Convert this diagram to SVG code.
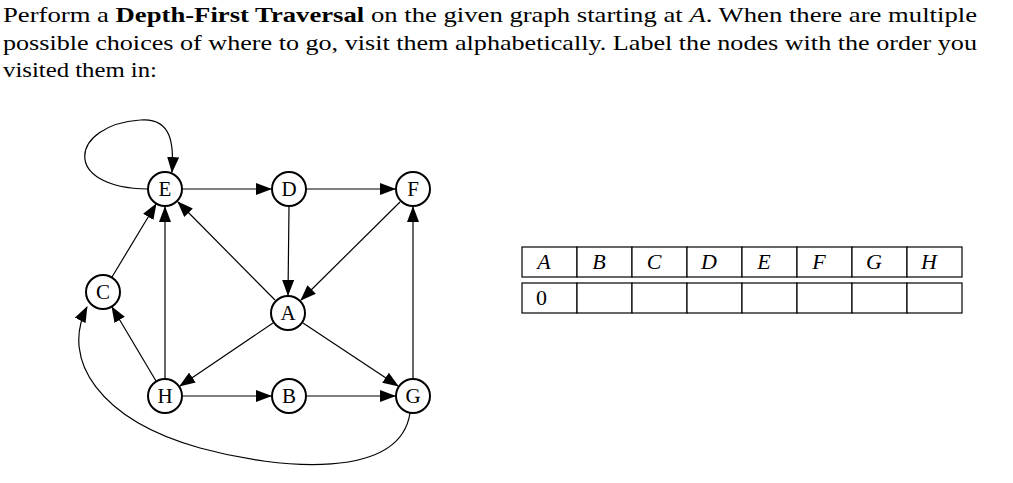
<svg xmlns="http://www.w3.org/2000/svg" width="1013" height="483" viewBox="0 0 1013 483">
<style>
.t{font-family:"Liberation Serif","DejaVu Serif",serif;font-size:21px;fill:#000}
.n circle{fill:#fff;stroke:#000;stroke-width:2}
.n text{font-family:"Liberation Serif","DejaVu Serif",serif;font-size:21px;text-anchor:middle}
.e{fill:none;stroke:#000;stroke-width:1.2;marker-end:url(#ah)}
.c{fill:#fff;stroke:#000;stroke-width:1.2}
.h{font-family:"Liberation Serif",serif;font-style:italic;font-size:22px;text-anchor:middle}
.v{font-family:"Liberation Serif",serif;font-size:22px}
</style>
<defs><marker id="ah" markerUnits="userSpaceOnUse" markerWidth="16" markerHeight="12" refX="15" refY="6" orient="auto"><path d="M0,0 L16,6 L0,12 Z" fill="#000"/></marker></defs>
<rect width="1013" height="483" fill="#fff"/>
<text class="t" x="3" y="22" textLength="974" lengthAdjust="spacingAndGlyphs">Perform a <tspan font-weight="bold">Depth-First Traversal</tspan> on the given graph starting at <tspan font-style="italic">A</tspan>.  When there are multiple</text>
<text class="t" x="3" y="50" textLength="974" lengthAdjust="spacingAndGlyphs">possible choices of where to go, visit them alphabetically.  Label the nodes with the order you</text>
<text class="t" x="3" y="77" textLength="154" lengthAdjust="spacingAndGlyphs">visited them in:</text>
<g id="connectors">
<path class="e" d="M183,189 L271,189"/>
<path class="e" d="M307,189 L395,189"/>
<path class="e" d="M289,207 L288,295"/>
<path class="e" d="M400,202 L301,300"/>
<path class="e" d="M275,300 L178,202"/>
<path class="e" d="M273,323 L180,386"/>
<path class="e" d="M303,323 L398,386"/>
<path class="e" d="M112,277 L156,204"/>
<path class="e" d="M165,378 L165,207"/>
<path class="e" d="M156,381 L112,307"/>
<path class="e" d="M183,396 L271,396"/>
<path class="e" d="M307,396 L395,396"/>
<path class="e" d="M413,378 L413,207"/>
<path class="e" d="M148,189 C60,188 70,125 140,120 C172,117 174,145 172,172"/>
<path class="e" d="M410,413 C400,480 280,470 200,448 C100,420 60,360 87,307"/>
</g>
<g id="node-E" class="n"><circle cx="165" cy="189" r="17"/><text x="165" y="196">E</text></g>
<g id="node-D" class="n"><circle cx="289" cy="189" r="17"/><text x="289" y="196">D</text></g>
<g id="node-F" class="n"><circle cx="413" cy="189" r="17"/><text x="413" y="196">F</text></g>
<g id="node-C" class="n"><circle cx="103" cy="292" r="17"/><text x="103" y="299">C</text></g>
<g id="node-A" class="n"><circle cx="288" cy="313" r="17"/><text x="288" y="320">A</text></g>
<g id="node-H" class="n"><circle cx="165" cy="396" r="17"/><text x="165" y="403">H</text></g>
<g id="node-B" class="n"><circle cx="289" cy="396" r="17"/><text x="289" y="403">B</text></g>
<g id="node-G" class="n"><circle cx="413" cy="396" r="17"/><text x="413" y="403">G</text></g>
<g id="table">
<rect class="c" x="522" y="247" width="55" height="30"/><rect class="c" x="577" y="247" width="55" height="30"/><rect class="c" x="632" y="247" width="55" height="30"/><rect class="c" x="687" y="247" width="55" height="30"/><rect class="c" x="742" y="247" width="55" height="30"/><rect class="c" x="797" y="247" width="55" height="30"/><rect class="c" x="852" y="247" width="55" height="30"/><rect class="c" x="907" y="247" width="55" height="30"/>
<rect class="c" x="522" y="283" width="55" height="30"/><rect class="c" x="577" y="283" width="55" height="30"/><rect class="c" x="632" y="283" width="55" height="30"/><rect class="c" x="687" y="283" width="55" height="30"/><rect class="c" x="742" y="283" width="55" height="30"/><rect class="c" x="797" y="283" width="55" height="30"/><rect class="c" x="852" y="283" width="55" height="30"/><rect class="c" x="907" y="283" width="55" height="30"/>
<text class="h" x="544" y="269">A</text><text class="h" x="599" y="269">B</text><text class="h" x="654" y="269">C</text><text class="h" x="709" y="269">D</text><text class="h" x="764" y="269">E</text><text class="h" x="819" y="269">F</text><text class="h" x="874" y="269">G</text><text class="h" x="929" y="269">H</text>
<text class="v" x="536" y="305">0</text>
</g>
</svg>
